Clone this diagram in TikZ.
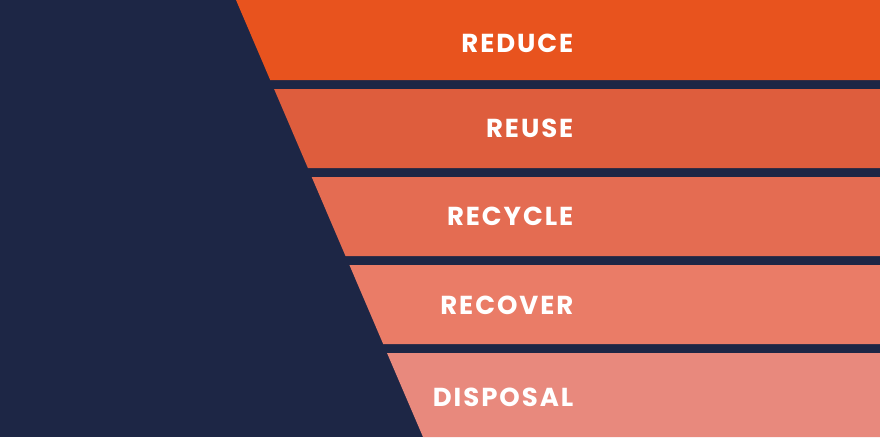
\documentclass[tikz,border=0pt]{standalone}
\usepackage{fontspec}
\newfontfamily\labfont{Poppins}[UprightFont=* Bold, LetterSpace=7.5]
\definecolor{navy}{HTML}{1D2645}
\definecolor{cA}{HTML}{E8531E}
\definecolor{cB}{HTML}{DE5D3D}
\definecolor{cC}{HTML}{E46C52}
\definecolor{cD}{HTML}{EA7C67}
\definecolor{cE}{HTML}{E8897D}
\begin{document}
\begin{tikzpicture}[x=1pt,y=-1pt,
  lab/.style={text=white,font=\labfont\fontsize{26}{26}\selectfont,anchor=base east,inner sep=0pt}]
\fill[navy] (0,0) rectangle (880,437);
\useasboundingbox (0,0) rectangle (880,437);
% slant: x = 236 + 0.4279*y
\fill[cA] (236,0) -- (880,0) -- (880,80) -- (270.2,80) -- cycle;
\fill[cB] (274.1,89) -- (880,89) -- (880,168) -- (307.9,168) -- cycle;
\fill[cC] (311.7,177) -- (880,177) -- (880,256) -- (345.5,256) -- cycle;
\fill[cD] (349.4,265) -- (880,265) -- (880,344) -- (383.2,344) -- cycle;
\fill[cE] (387.0,353) -- (880,353) -- (880,437) -- (423,437) -- cycle;
\node[lab] (t1) at (573.5,52) {REDUCE};
\node[lab] (t2) at (573.5,137) {REUSE};
\node[lab] (t3) at (573.5,225) {RECYCLE};
\node[lab] (t4) at (573.5,314) {RECOVER};
\node[lab] (t5) at (573.5,406) {DISPOSAL};
\end{tikzpicture}
\end{document}
